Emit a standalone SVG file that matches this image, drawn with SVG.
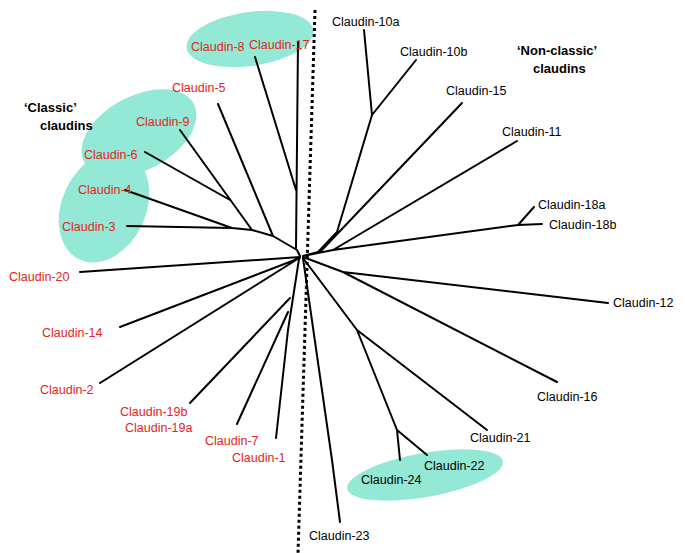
<svg xmlns="http://www.w3.org/2000/svg" width="685" height="553" viewBox="0 0 685 553">
<style>
.e{fill:#93e9d6}
.l{stroke:#000;stroke-width:2;fill:none;stroke-linecap:round;stroke-linejoin:round}
text{font-family:"Liberation Sans",Arial,sans-serif;font-size:12.5px}
.r{fill:#e3241b}.k{fill:#000}.b{font-weight:bold;font-size:13px}
</style>
<g id="groups">
<ellipse class="e" cx="250" cy="39" rx="64" ry="27" transform="rotate(-8 250 39)"/>
<ellipse class="e" cx="139" cy="133" rx="62" ry="37" transform="rotate(-28 139 133)"/>
<ellipse class="e" cx="104" cy="207" rx="42" ry="58" transform="rotate(25 104 207)"/>
<ellipse class="e" cx="425" cy="475" rx="79" ry="22" transform="rotate(-10 425 475)"/>
</g>
<line x1="315" y1="10" x2="298" y2="553" stroke="#000" stroke-width="3" stroke-dasharray="3 3"/>
<g id="connectors" class="l">
<path d="M298 42 L296 248 M255 57 L296 190"/>
<path d="M218 104 L273 236"/>
<path d="M180 130 L252 230 M145 152 L230 200 M125 190 L232 228 M127 226 L232 228 L252 230 L273 236 L297 250 L300 256"/>
<path d="M80 272 L300 257 M120 327 L300 258 M100 383 L296 260"/>
<path d="M299 259 L288 330 L276 438 M190 403 L290 298 M237 424 L288 312"/>
<path d="M364 30 L372 115 M416 60 L372 115 L337 232 L318 252 L303 256 M462 103 L320 252 M517 141 L333 250 M303 256 L333 250 L518 225 L542 224 M518 225 L534 207"/>
<path d="M303 257 L343 272 L608 303 M343 272 L557 382"/>
<path d="M303 258 L357 330 L487 430 M357 330 L397 430 L427 455 M397 430 L400 460"/>
<path d="M303 258 L332 460 L340 522"/>
</g>
<g id="labels">
<text class="r" x="191" y="51">Claudin-8</text>
<text class="r" x="249" y="49">Claudin-17</text>
<text class="r" x="172" y="92">Claudin-5</text>
<text class="r" x="136" y="126">Claudin-9</text>
<text class="r" x="84" y="159">Claudin-6</text>
<text class="r" x="78" y="194">Claudin-4</text>
<text class="r" x="62" y="231">Claudin-3</text>
<text class="r" x="9" y="281">Claudin-20</text>
<text class="r" x="42" y="337">Claudin-14</text>
<text class="r" x="40" y="394">Claudin-2</text>
<text class="r" x="120" y="416">Claudin-19b</text>
<text class="r" x="125" y="432">Claudin-19a</text>
<text class="r" x="205" y="445">Claudin-7</text>
<text class="r" x="232" y="462">Claudin-1</text>
<text class="b" x="24" y="112">‘Classic’</text>
<text class="b" x="40" y="130">claudins</text>
<text class="b" x="517" y="55">‘Non-classic’</text>
<text class="b" x="533" y="73">claudins</text>
<text class="k" x="332" y="26">Claudin-10a</text>
<text class="k" x="400" y="56">Claudin-10b</text>
<text class="k" x="446" y="95">Claudin-15</text>
<text class="k" x="502" y="136">Claudin-11</text>
<text class="k" x="538" y="209">Claudin-18a</text>
<text class="k" x="549" y="229">Claudin-18b</text>
<text class="k" x="613" y="307">Claudin-12</text>
<text class="k" x="537" y="401">Claudin-16</text>
<text class="k" x="470" y="442">Claudin-21</text>
<text class="k" x="424" y="470">Claudin-22</text>
<text class="k" x="361" y="484">Claudin-24</text>
<text class="k" x="309" y="540">Claudin-23</text>
</g>
</svg>
